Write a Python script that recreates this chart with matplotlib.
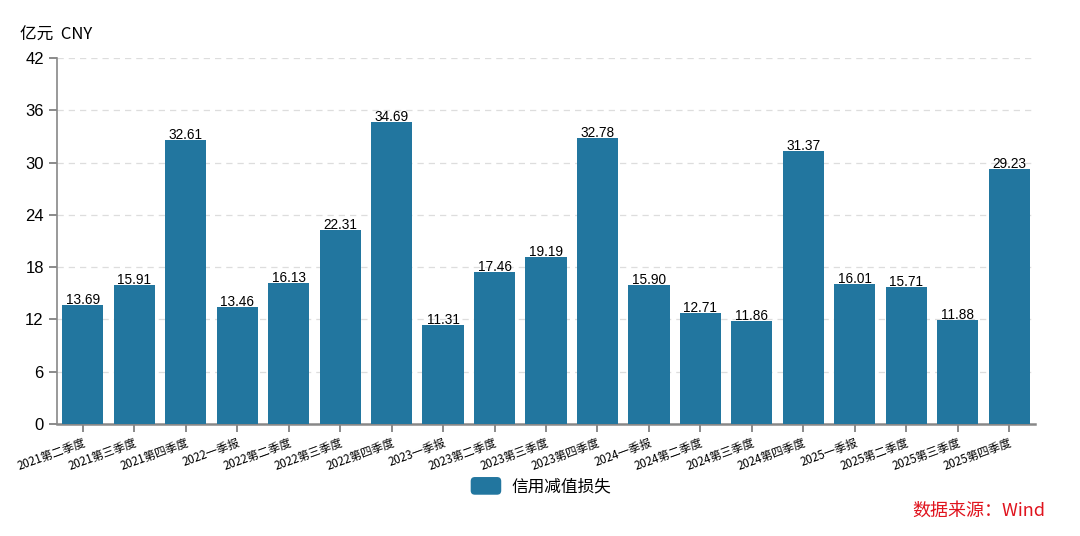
import matplotlib
matplotlib.use("Agg")
import matplotlib.pyplot as plt
from matplotlib.patches import FancyBboxPatch
from matplotlib.legend_handler import HandlerPatch
import matplotlib.patches as mpatches

plt.rcParams['font.family'] = ['Noto Sans CJK SC', 'DejaVu Sans']

categories = ["2021第二季度", "2021第三季度", "2021第四季度", "2022一季报", "2022第二季度",
              "2022第三季度", "2022第四季度", "2023一季报", "2023第二季度", "2023第三季度",
              "2023第四季度", "2024一季报", "2024第二季度", "2024第三季度", "2024第四季度",
              "2025一季报", "2025第二季度", "2025第三季度", "2025第四季度"]
values = [13.69, 15.91, 32.61, 13.46, 16.13, 22.31, 34.69, 11.31, 17.46, 19.19,
          32.78, 15.90, 12.71, 11.86, 31.37, 16.01, 15.71, 11.88, 29.23]
yticks = [0, 6, 12, 18, 24, 30, 36, 42]
series_name = "信用减值损失"
bar_color = "#22769f"

fig = plt.figure(figsize=(10.8, 5.36), dpi=100)
ax = fig.add_axes([57/1080, 1-424/536, (1035-57)/1080, (424-58)/536])

x = list(range(len(categories)))
bars = ax.bar(x, values, width=0.8, color=bar_color, label=series_name, zorder=3)
for xi, v in zip(x, values):
    ax.text(xi, v + 0.12, f"{v:.2f}", ha='center', va='baseline', fontsize=9.8, color='black',
            family=['Liberation Sans', 'DejaVu Sans'], zorder=4)

ax.set_xlim(-0.5, len(categories) - 0.5)
ax.set_ylim(0, 42)
ax.set_yticks(yticks)
ax.set_yticklabels([str(t) for t in yticks], fontsize=12, family=['Liberation Sans', 'DejaVu Sans'])
ax.set_xticks(x)
ax.set_xticklabels(categories, rotation=20, ha='right', rotation_mode='anchor', fontsize=8.3)
ax.grid(axis='y', color='#dddddd', linestyle=(0, (5, 4)), linewidth=0.9, zorder=0)
ax.tick_params(axis='both', colors='#777777', length=6, width=1.2, labelcolor='black')
ax.tick_params(axis='x', pad=3)
for s in ['top', 'right']:
    ax.spines[s].set_visible(False)
ax.spines['left'].set_color('#888888')
ax.spines['left'].set_linewidth(1.2)
ax.spines['bottom'].set_color('#888888')
ax.spines['bottom'].set_linewidth(1.8)

fig.text(20/1080, 1-35/536, "亿元  CNY", fontsize=12, va='center', ha='left')


class RoundHandler(HandlerPatch):
    def create_artists(self, legend, orig_handle, xdescent, ydescent, width, height, fontsize, trans):
        p = FancyBboxPatch((-xdescent + 1, -ydescent - 1), width - 2, height + 2,
                           boxstyle="round,pad=0,rounding_size=3",
                           facecolor=bar_color, edgecolor='none', transform=trans)
        return [p]

handle = mpatches.Patch(color=bar_color, label=series_name)
fig.legend(handles=[handle], labels=[series_name], loc='center', bbox_to_anchor=(540/1080, 1-487/536),
           frameon=False, fontsize=12, handler_map={mpatches.Patch: RoundHandler()},
           handlelength=2.0, handleheight=1.0, handletextpad=0.5)

fig.text(1045/1080, 1-511/536, "数据来源：Wind", fontsize=13, color='#e0141e', ha='right', va='center')

fig.savefig("out.png", dpi=100)
